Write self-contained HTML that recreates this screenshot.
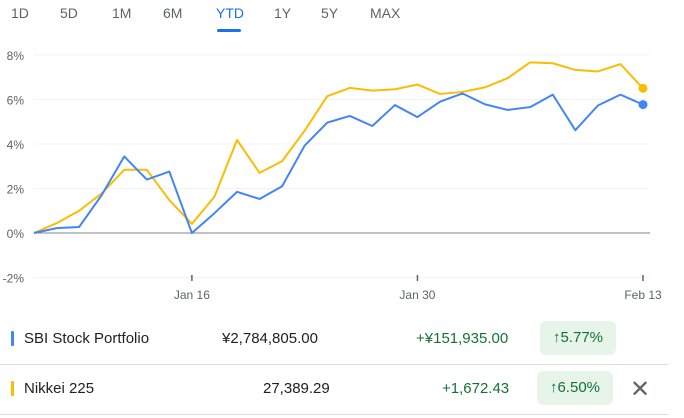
<!DOCTYPE html>
<html><head><meta charset="utf-8"><style>
body{margin:0;width:684px;height:418px;background:#fff;font-family:"Liberation Sans",sans-serif;overflow:hidden;position:relative}
.tab{position:absolute;top:5px;font-size:14px;color:#5f6368}
.row{position:absolute;left:0;width:668px;height:50px;border-bottom:1px solid #dadce0;font-size:15px;color:#202124}
.row span{position:absolute;top:16px}
.bar{position:absolute;left:11px;top:17px;width:3px;height:15px;border-radius:1px}
.pill{position:absolute;left:540px;top:7px;width:76px;height:34px;background:#e6f4ea;border-radius:6px;color:#137333;text-align:center;line-height:34px;font-size:15px}
</style></head><body>
<div>
<span class="tab" style="left:11px">1D</span>
<span class="tab" style="left:60px">5D</span>
<span class="tab" style="left:112px">1M</span>
<span class="tab" style="left:163px">6M</span>
<span class="tab" style="left:216px;color:#1a73e8">YTD</span>
<div style="position:absolute;left:217px;top:29px;width:24px;height:3px;background:#1a73e8;border-radius:2px"></div>
<span class="tab" style="left:274px">1Y</span>
<span class="tab" style="left:321px">5Y</span>
<span class="tab" style="left:370px">MAX</span>
</div>
<svg id="chart" width="684" height="310" style="position:absolute;left:0;top:0"></svg>
<div class="row" style="top:314px">
<div class="bar" style="background:#4285f4"></div>
<span style="left:24px">SBI Stock Portfolio</span>
<span style="left:222px">¥2,784,805.00</span>
<span style="left:416px;color:#137333">+¥151,935.00</span>
<div class="pill">↑5.77%</div>
</div>
<div class="row" style="top:364px">
<div class="bar" style="background:#fbbc04"></div>
<span style="left:24px">Nikkei 225</span>
<span style="left:263px">27,389.29</span>
<span style="left:442px;color:#137333">+1,672.43</span>
<div class="pill" style="left:537px">↑6.50%</div>
<span style="left:630px;top:11px;font-size:24px;color:#5f6368">✕</span>
</div>
<script>
const blue=[0,0.22,0.27,1.7,3.44,2.4,2.76,0,0.89,1.85,1.53,2.1,3.93,4.96,5.26,4.81,5.75,5.21,5.9,6.27,5.78,5.53,5.66,6.22,4.62,5.73,6.22,5.77];
const yellow=[0,0.44,1.0,1.78,2.84,2.84,1.48,0.41,1.63,4.18,2.7,3.23,4.6,6.15,6.52,6.4,6.46,6.67,6.25,6.34,6.55,6.96,7.67,7.63,7.33,7.26,7.59,6.5];
const yTicks=[8,6,4,2,0,-2];
const xLabels=["Jan 16","Jan 30","Feb 13"];
const xLabelIdx=[7,17,27];
const svg=document.getElementById('chart');const NS='http://www.w3.org/2000/svg';
const x=i=>34+i*(609/27), y=v=>233-v*22.25;
function el(t,a){const e=document.createElementNS(NS,t);for(const k in a)e.setAttribute(k,a[k]);svg.appendChild(e);return e;}
yTicks.forEach(v=>{const g=el('line',{x1:34,x2:650,y1:y(v),y2:y(v),stroke:v===0?'#80868b':'#f1f3f4','stroke-width':1});


const t=el('text',{x:24,y:y(v)+5,'text-anchor':'end','font-size':12,fill:'#5f6368','font-family':'Liberation Sans'});t.textContent=v+'%';

});
xLabels.forEach((l,k)=>{const xi=x(xLabelIdx[k]);el('line',{x1:xi,x2:xi,y1:275,y2:281,stroke:'#5f6368','stroke-width':1.5});
const t=el('text',{x:xi,y:299,'text-anchor':'middle','font-size':12,fill:'#5f6368','font-family':'Liberation Sans'});t.textContent=l;

});
[[yellow,'#fbbc04','nikkei-line'],[blue,'#4285f4','sbi-line']].forEach(([d,c,n])=>{
const p=el('polyline',{points:d.map((v,i)=>x(i)+','+y(v)).join(' '),fill:'none',stroke:c,'stroke-width':2,'stroke-linejoin':'round'});


const dot=el('circle',{cx:x(d.length-1),cy:y(d[d.length-1]),r:4.5,fill:c});

});
</script>
</body></html>
